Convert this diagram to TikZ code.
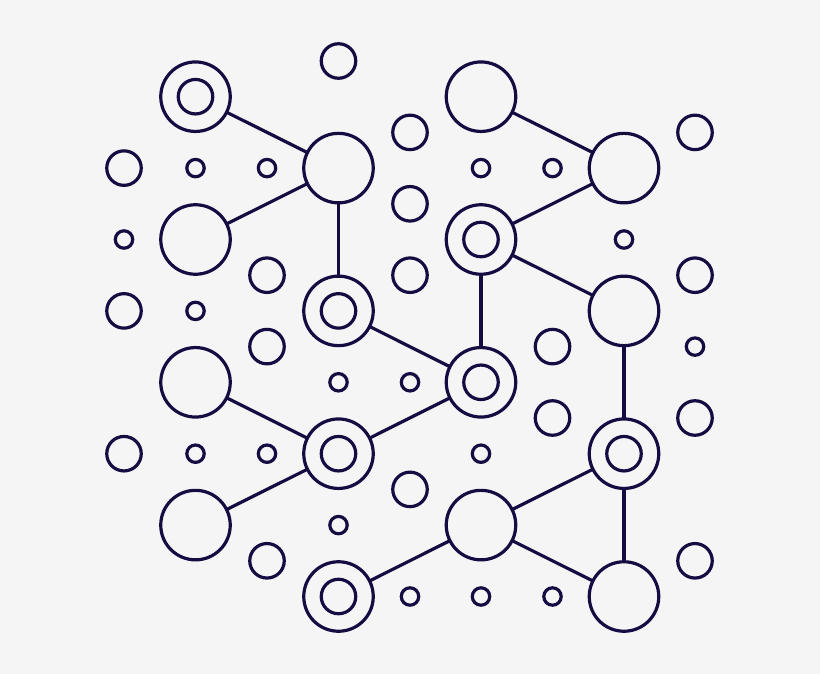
\documentclass[tikz,border=0pt]{standalone}
\definecolor{ink}{RGB}{22,12,66}
\definecolor{bg}{RGB}{245,245,246}
\begin{document}
\begin{tikzpicture}[x=1pt,y=-1pt,
  every node/.style={circle,draw=ink,line width=3.2pt,inner sep=0pt,outer sep=0pt},
  big/.style={minimum size=69.5pt},
  med/.style={minimum size=34.5pt},
  sml/.style={minimum size=17.4pt},
  link/.style={draw=ink,line width=3.2pt}]
\fill[bg] (0,0) rectangle (820,674);
\useasboundingbox (0,0) rectangle (820,674);
% column 0
\node[med] (a3) at (124,168.1) {};
\node[sml] (a5) at (124,239.5) {};
\node[med] (a7) at (124,310.9) {};
\node[med] (a11) at (124,453.7) {};
% column 1
\node[big] (b1) at (195.5,96.7) {};
\node[med] (b1i) at (195.5,96.7) {};
\node[sml] (b3) at (195.5,168.1) {};
\node[big] (b5) at (195.5,239.5) {};
\node[sml] (b7) at (195.5,310.9) {};
\node[big] (b9) at (195.5,382.3) {};
\node[sml] (b11) at (195.5,453.7) {};
\node[big] (b13) at (195.5,525.1) {};
% column 2
\node[sml] (c3) at (267,168.1) {};
\node[med] (c6) at (267,275.2) {};
\node[med] (c8) at (267,346.6) {};
\node[sml] (c11) at (267,453.7) {};
\node[med] (c14) at (267,560.8) {};
% column 3
\node[med] (d0) at (338.5,61) {};
\node[big] (d3) at (338.5,168.1) {};
\node[big] (d7) at (338.5,310.9) {};
\node[med] (d7i) at (338.5,310.9) {};
\node[sml] (d9) at (338.5,382.3) {};
\node[big] (d11) at (338.5,453.7) {};
\node[med] (d11i) at (338.5,453.7) {};
\node[sml] (d13) at (338.5,525.1) {};
\node[big] (d15) at (338.5,596.5) {};
\node[med] (d15i) at (338.5,596.5) {};
% column 4
\node[med] (e2) at (410,132.4) {};
\node[med] (e4) at (410,203.8) {};
\node[med] (e6) at (410,275.2) {};
\node[sml] (e9) at (410,382.3) {};
\node[med] (e12) at (410,489.4) {};
\node[sml] (e15) at (410,596.5) {};
% column 5
\node[big] (f1) at (481,96.7) {};
\node[sml] (f3) at (481,168.1) {};
\node[big] (f5) at (481,239.5) {};
\node[med] (f5i) at (481,239.5) {};
\node[big] (f9) at (481,382.3) {};
\node[med] (f9i) at (481,382.3) {};
\node[sml] (f11) at (481,453.7) {};
\node[big] (f13) at (481,525.1) {};
\node[sml] (f15) at (481,596.5) {};
% column 6
\node[sml] (g3) at (552.5,168.1) {};
\node[med] (g8) at (552.5,346.6) {};
\node[med] (g10) at (552.5,418) {};
\node[sml] (g15) at (552.5,596.5) {};
% column 7
\node[big] (h3) at (624,168.1) {};
\node[sml] (h5) at (624,239.5) {};
\node[big] (h7) at (624,310.9) {};
\node[big] (h11) at (624,453.7) {};
\node[med] (h11i) at (624,453.7) {};
\node[big] (h15) at (624,596.5) {};
% column 8
\node[med] (i2) at (695,132.4) {};
\node[med] (i6) at (695,275.2) {};
\node[sml] (i8) at (695,346.6) {};
\node[med] (i10) at (695,418) {};
\node[med] (i14) at (695,560.8) {};
% links
\path[link] (b1) -- (d3);
\path[link] (b5) -- (d3);
\path[link] (d3) -- (d7);
\path[link] (d7) -- (f9);
\path[link] (b9) -- (d11);
\path[link] (d11) -- (f9);
\path[link] (b13) -- (d11);
\path[link] (d15) -- (f13);
\path[link] (f1) -- (h3);
\path[link] (f5) -- (h3);
\path[link] (f5) -- (h7);
\path[link] (f5) -- (f9);
\path[link] (h7) -- (h11);
\path[link] (h11) -- (f13);
\path[link] (f13) -- (h15);
\path[link] (h11) -- (h15);
\end{tikzpicture}
\end{document}
